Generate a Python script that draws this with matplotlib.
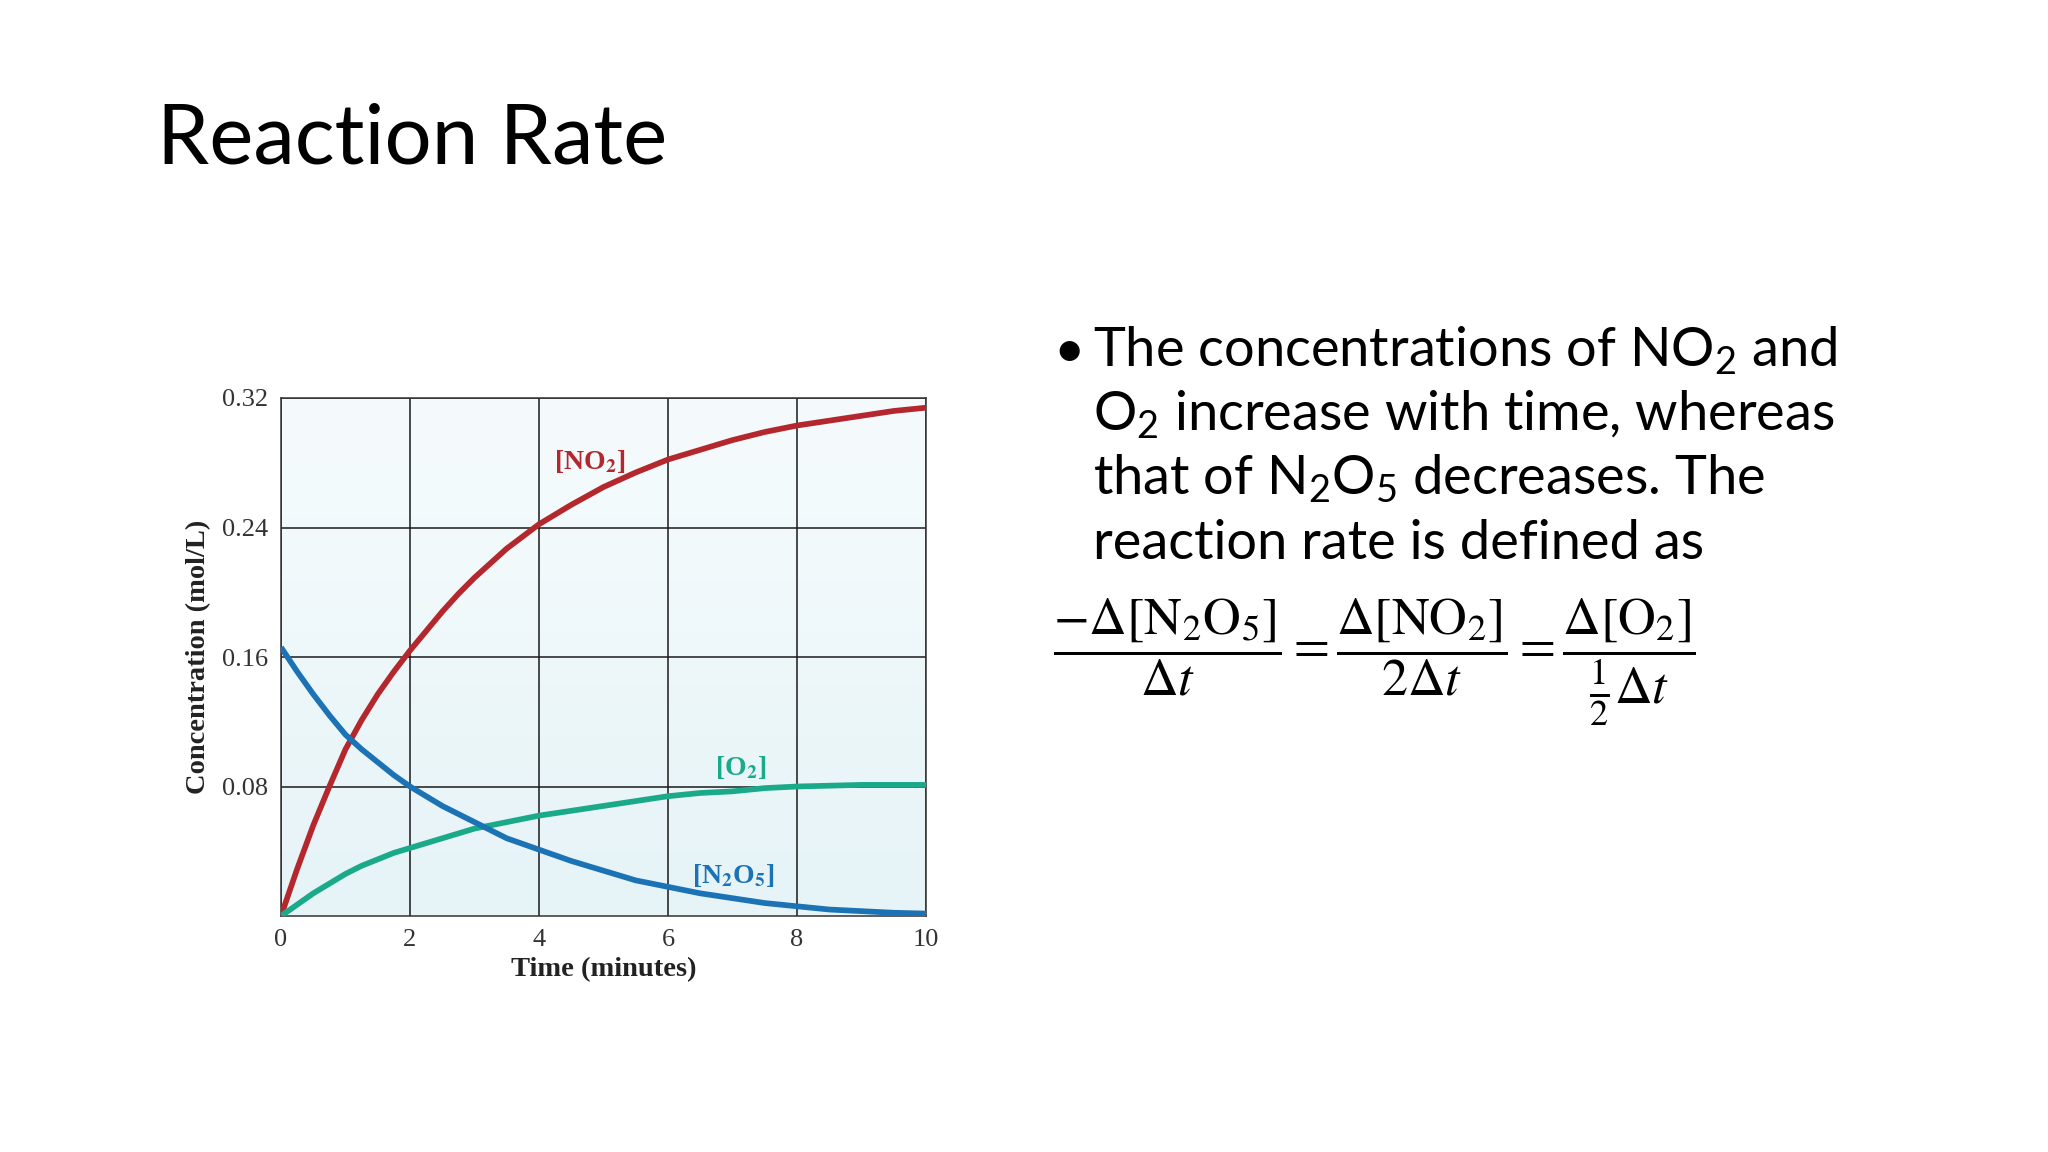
import matplotlib
matplotlib.use("Agg")
import matplotlib.pyplot as plt
from matplotlib.colors import LinearSegmentedColormap

plt.rcParams['mathtext.fontset'] = 'custom'
plt.rcParams['mathtext.rm'] = 'Lato'
plt.rcParams['mathtext.it'] = 'Lato:italic'
plt.rcParams['mathtext.bf'] = 'Lato:bold'

# values (mol/L)
time_min = [0, 0.25, 0.5, 0.75, 1, 1.25, 1.5, 1.75, 2, 2.25, 2.5, 2.75, 3, 3.5, 4, 4.5,
            5, 5.5, 6, 6.5, 7, 7.5, 8, 8.5, 9, 9.5, 10]
no2 = [0, 0.029, 0.056, 0.080, 0.103, 0.121, 0.137, 0.151, 0.164, 0.176, 0.188, 0.199,
       0.209, 0.227, 0.242, 0.254, 0.265, 0.274, 0.282, 0.288, 0.294, 0.299, 0.303,
       0.306, 0.309, 0.312, 0.314]
n2o5 = [0.166, 0.151, 0.137, 0.124, 0.112, 0.103, 0.095, 0.087, 0.080, 0.074, 0.068,
        0.063, 0.058, 0.048, 0.041, 0.034, 0.028, 0.022, 0.018, 0.014, 0.011, 0.008,
        0.006, 0.004, 0.003, 0.002, 0.0015]
o2 = [0, 0.007, 0.014, 0.020, 0.026, 0.031, 0.035, 0.039, 0.042, 0.045, 0.048, 0.051,
      0.054, 0.058, 0.062, 0.065, 0.068, 0.071, 0.074, 0.076, 0.077, 0.079, 0.080,
      0.0805, 0.081, 0.081, 0.081]

x_ticks = [0, 2, 4, 6, 8, 10]
y_ticks = [0.08, 0.16, 0.24, 0.32]
y_tick_labels = ['0.08', '0.16', '0.24', '0.32']

red = '#b3272d'
blue = '#1b72b5'
teal = '#1aaa8a'

fig = plt.figure(figsize=(20.48, 11.52), dpi=100)
fig.patch.set_facecolor('white')

# slide title
fig.text(157 / 2048, 1 - 163 / 1152, 'Reaction Rate', family='Lato', fontsize=60,
         ha='left', va='baseline', color='black')

# the chart
ax = fig.add_axes([281 / 2048, 1 - 916 / 1152, 645 / 2048, 518 / 1152])
bg = LinearSegmentedColormap.from_list('bg', ['#e7f4f7', '#f5fbfd'])
ax.imshow([[0], [1]], cmap=bg, extent=(0, 10, 0, 0.32), aspect='auto',
          interpolation='bicubic', origin='lower', zorder=0)
ax.plot(time_min, no2, color=red, lw=4.1, solid_capstyle='butt', zorder=3)
ax.plot(time_min, o2, color=teal, lw=4.1, solid_capstyle='butt', zorder=3)
ax.plot(time_min, n2o5, color=blue, lw=4.1, solid_capstyle='butt', zorder=3)
ax.set_xlim(0, 10)
ax.set_ylim(0, 0.32)
ax.set_xticks(x_ticks)
ax.set_yticks(y_ticks)
ax.set_yticklabels(y_tick_labels)
ax.grid(True, color='#1a1a1a', lw=1.1, zorder=1)
for s in ax.spines.values():
    s.set_color('#333333')
    s.set_linewidth(1.1)
ax.tick_params(length=0, pad=9, labelsize=19, labelcolor='#333333')
for lab in ax.get_xticklabels() + ax.get_yticklabels():
    lab.set_family('Liberation Serif')
ax.set_xlabel('Time (minutes)', family='Liberation Serif', fontweight='bold',
              fontsize=20.5, color='#222222', labelpad=5)
ax.set_ylabel('Concentration (mol/L)', family='Liberation Serif', fontweight='bold',
              fontsize=20.5, color='#222222', labelpad=8)

ax.text(4.78, 0.281, r'[NO$_\mathbf{2}$]', color=red, family='Liberation Serif',
        fontweight='bold', fontsize=20, ha='center', va='center', math_fontfamily='stix')
ax.text(7.13, 0.092, r'[O$_\mathbf{2}$]', color=teal, family='Liberation Serif',
        fontweight='bold', fontsize=20, ha='center', va='center', math_fontfamily='stix')
ax.text(7.02, 0.025, r'[N$_\mathbf{2}$O$_\mathbf{5}$]', color=blue, family='Liberation Serif',
        fontweight='bold', fontsize=20, ha='center', va='center', math_fontfamily='stix')

# bullet text
lines = [r'The concentrations of $\mathrm{NO_2}$ and',
         r'$\mathrm{O_2}$ increase with time, whereas',
         r'that of $\mathrm{N_2O_5}$ decreases. The',
         'reaction rate is defined as']
for i, line in enumerate(lines):
    fig.text(1093 / 2048, 1 - (367 + 64 * i) / 1152, line, family='Lato', fontsize=39,
             ha='left', va='baseline', color='black')
fig.text(1053 / 2048, 1 - 367 / 1152, '\u2022', family='Lato', fontsize=39,
         ha='left', va='baseline', color='black')

# rate equation
eq = (r'$\dfrac{-\Delta[\mathrm{N_2O_5}]}{\Delta t} = '
      r'\dfrac{\Delta[\mathrm{NO_2}]}{2\Delta t} = '
      r'\dfrac{\Delta[\mathrm{O_2}]}{\frac{1}{2}\Delta t}$')
fig.text(1053 / 2048, 1 - 662 / 1152, eq, fontsize=37.5, math_fontfamily='stix',
         ha='left', va='center', color='black')

plt.savefig('out.png', dpi=100)
